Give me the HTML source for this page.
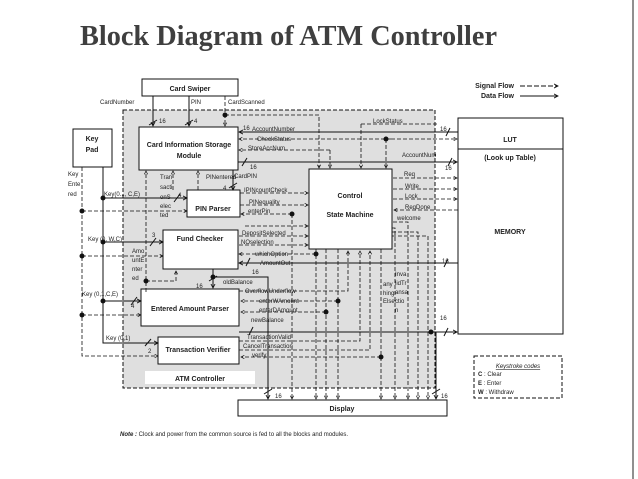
<!DOCTYPE html>
<html><head><meta charset="utf-8"><style>
html,body{margin:0;padding:0;background:#fff;}
svg{display:block;}
text{font-family:"Liberation Sans",sans-serif;fill:#222;}
.t{font-size:6px;}
.b{font-size:7px;font-weight:bold;}
</style></head><body>
<svg width="638" height="479" viewBox="0 0 638 479" xmlns="http://www.w3.org/2000/svg">
<defs>
<marker id="a" viewBox="0 0 6 6" refX="5" refY="3" markerWidth="5" markerHeight="5" orient="auto"><path d="M0,0.5 L5,3 L0,5.5" fill="none" stroke="#111" stroke-width="1"/></marker>
</defs>
<line x1="633" y1="0" x2="633" y2="479" stroke="#222" stroke-width="1"/>
<text x="80" y="45" textLength="417" lengthAdjust="spacingAndGlyphs" style="font-family:'Liberation Serif',serif;font-size:28px;font-weight:bold;fill:#3f3f3f">Block Diagram of ATM Controller</text>

<rect x="123" y="110" width="312" height="278" fill="#dfdfdf" stroke="#111" stroke-dasharray="4,2"/>
<rect x="145" y="371" width="110" height="13" fill="#fff"/>
<text x="200" y="381" class="b" text-anchor="middle">ATM Controller</text>

<g fill="#fff" stroke="#111" stroke-width="1">
<rect x="142" y="79" width="96" height="17"/>
<rect x="73" y="129" width="39" height="38"/>
<rect x="139" y="127" width="99" height="43"/>
<rect x="187" y="190" width="53" height="27"/>
<rect x="163" y="230" width="75" height="39"/>
<rect x="141" y="289" width="98" height="37"/>
<rect x="158" y="337" width="81" height="27"/>
<rect x="309" y="169" width="83" height="80"/>
<rect x="458" y="118" width="105" height="216"/>
<rect x="238" y="400" width="209" height="16"/>
</g>
<line x1="458" y1="149" x2="563" y2="149" stroke="#111"/>
<rect x="474" y="356" width="88" height="42" fill="none" stroke="#111" stroke-dasharray="4,2"/>

<text x="190" y="91" class="b" text-anchor="middle">Card Swiper</text>
<text x="92" y="141" class="b" text-anchor="middle">Key</text>
<text x="92" y="152" class="b" text-anchor="middle">Pad</text>
<text x="189" y="147" class="b" text-anchor="middle">Card Information Storage</text>
<text x="189" y="158" class="b" text-anchor="middle">Module</text>
<text x="213" y="211" class="b" text-anchor="middle">PIN Parser</text>
<text x="200" y="241" class="b" text-anchor="middle">Fund Checker</text>
<text x="190" y="311" class="b" text-anchor="middle">Entered Amount Parser</text>
<text x="198" y="352" class="b" text-anchor="middle">Transaction Verifier</text>
<text x="350" y="198" class="b" text-anchor="middle">Control</text>
<text x="350" y="217" class="b" text-anchor="middle">State Machine</text>
<text x="510" y="142" class="b" text-anchor="middle">LUT</text>
<text x="510" y="160" class="b" text-anchor="middle">(Look up Table)</text>
<text x="510" y="234" class="b" text-anchor="middle">MEMORY</text>
<text x="342" y="411" class="b" text-anchor="middle">Display</text>
<text x="514" y="88" class="b" text-anchor="end">Signal Flow</text>
<text x="514" y="98" class="b" text-anchor="end">Data Flow</text>
<line x1="520" y1="86" x2="558" y2="86" stroke="#111" stroke-dasharray="5,2" marker-end="url(#a)"/>
<line x1="520" y1="96" x2="558" y2="96" stroke="#111" marker-end="url(#a)"/>
<text x="518" y="368" class="t" text-anchor="middle" style="font-style:italic;text-decoration:underline">Keystroke codes</text>
<text x="478" y="376" class="t"><tspan font-weight="bold">C</tspan> : Clear</text>
<text x="478" y="385" class="t"><tspan font-weight="bold">E</tspan> : Enter</text>
<text x="478" y="394" class="t"><tspan font-weight="bold">W</tspan> : Withdraw</text>
<text x="120" y="436" class="t"><tspan font-weight="bold" font-style="italic">Note :</tspan> Clock and power from the common source is fed to all the blocks and modules.</text>

<g stroke="#111" fill="none" stroke-width="1">
<path d="M153 96 V126" marker-end="url(#a)"/>
<path d="M189 96 V126" marker-end="url(#a)"/>
<path d="M103 167 V343 H158" marker-end="url(#a)"/>
<path d="M103 198 H187" marker-end="url(#a)"/>
<path d="M103 242 H163" marker-end="url(#a)"/>
<path d="M103 301 H141" marker-end="url(#a)"/>
<path d="M458 132 H239" marker-end="url(#a)"/>
<path d="M238 162 H457" marker-end="url(#a)"/>
<path d="M233 170 V190" marker-end="url(#a)"/>
<path d="M458 263 H239" marker-end="url(#a)"/>
<path d="M239 332 H457" marker-end="url(#a)"/>
<path d="M436 332 V399" marker-end="url(#a)"/>
<path d="M213 277 H268 V399" marker-end="url(#a)"/>
<path d="M213 269 V288" marker-end="url(#a)"/>
</g>
<g stroke="#111" fill="none" stroke-width="0.8" stroke-dasharray="4,2">
<path d="M82 167 V356 H158" marker-end="url(#a)"/>
<path d="M82 211 H187" marker-end="url(#a)"/>
<path d="M82 256 H163" marker-end="url(#a)"/>
<path d="M82 315 H141" marker-end="url(#a)"/>
<path d="M225 96 V126" marker-end="url(#a)"/>
<path d="M225 115 H319 V168" marker-end="url(#a)"/>
<path d="M146 292 V171" marker-end="url(#a)"/>
<path d="M173 190 V171" marker-end="url(#a)"/>
<path d="M198 190 V171" marker-end="url(#a)"/>
<path d="M146 281 H176 V271" marker-end="url(#a)"/>
<path d="M391 139 H239" marker-end="url(#a)"/>
<path d="M391 139 H457" marker-end="url(#a)"/>
<path d="M386 139 V168" marker-end="url(#a)"/>
<path d="M330 150 H239" marker-end="url(#a)"/>
<path d="M330 150 V168" marker-end="url(#a)"/>
<path d="M361 124 H438" />
<path d="M361 124 V168" marker-end="url(#a)"/>
<path d="M240 193 H308" marker-end="url(#a)"/>
<path d="M240 205 H308" marker-end="url(#a)"/>
<path d="M292 214 H241" marker-end="url(#a)"/>
<path d="M292 214 V399" marker-end="url(#a)"/>
<path d="M245 226 H308" marker-end="url(#a)"/>
<path d="M239 236 H308" marker-end="url(#a)"/>
<path d="M239 245 H308" marker-end="url(#a)"/>
<path d="M316 254 H239" marker-end="url(#a)"/>
<path d="M316 249 V399" marker-end="url(#a)"/>
<path d="M326 249 V399" marker-end="url(#a)"/>
<path d="M338 249 V399" marker-end="url(#a)"/>
<path d="M239 291 H348 V251" marker-end="url(#a)"/>
<path d="M239 341 H360 V251" marker-end="url(#a)"/>
<path d="M239 350 H370 V251" marker-end="url(#a)"/>
<path d="M338 301 H241" marker-end="url(#a)"/>
<path d="M326 312 H241" marker-end="url(#a)"/>
<path d="M381 357 H241" marker-end="url(#a)"/>
<path d="M381 249 V399" marker-end="url(#a)"/>
<path d="M393 178 H457" marker-end="url(#a)"/>
<path d="M393 189 H457" marker-end="url(#a)"/>
<path d="M393 199 H457" marker-end="url(#a)"/>
<path d="M458 210 H394" marker-end="url(#a)"/>
<path d="M393 222 H408 V399" marker-end="url(#a)"/>
<path d="M392 228 H395 V399" marker-end="url(#a)"/>
<path d="M392 232 H418 V399" marker-end="url(#a)"/>
<path d="M392 236 H428 V399" marker-end="url(#a)"/>
</g>
<g fill="#111">
<circle cx="103" cy="198" r="2.5"/><circle cx="82" cy="211" r="2.5"/>
<circle cx="103" cy="242" r="2.5"/><circle cx="82" cy="256" r="2.5"/>
<circle cx="103" cy="301" r="2.5"/><circle cx="82" cy="315" r="2.5"/>
<circle cx="225" cy="115" r="2.5"/><circle cx="386" cy="139" r="2.5"/>
<circle cx="292" cy="214" r="2.5"/><circle cx="316" cy="254" r="2.5"/>
<circle cx="146" cy="281" r="2.5"/><circle cx="213" cy="277" r="2.5"/>
<circle cx="338" cy="301" r="2.5"/><circle cx="326" cy="312" r="2.5"/>
<circle cx="381" cy="357" r="2.5"/><circle cx="431" cy="332" r="2.5"/>
</g>
<g class="t">
<text x="100" y="104" class="t">CardNumber</text>
<text x="191" y="104" class="t">PIN</text>
<text x="228" y="104" class="t">CardScanned</text>
<text x="159" y="123" class="t">16</text><text x="194" y="123" class="t">4</text>
<text x="243" y="130" class="t">16</text>
<text x="252" y="131" class="t">AccountNumber</text>
<text x="257" y="141" class="t">CheckStatus</text>
<text x="248" y="150" class="t">StoreAccNum</text>
<text x="250" y="169" class="t">16</text>
<text x="373" y="123" class="t">LockStatus</text>
<text x="440" y="131" class="t">16</text>
<text x="402" y="157" class="t">AccountNum</text>
<text x="445" y="170" class="t">16</text>
<text x="234" y="178" class="t">CardPIN</text>
<text x="206" y="179" class="t">PINentered</text>
<text x="223" y="190" class="t">4</text>
<text x="160" y="179" class="t">Tran</text><text x="160" y="189" class="t">sacti</text><text x="160" y="199" class="t">onS</text><text x="160" y="208" class="t">elec</text><text x="160" y="217" class="t">ted</text>
<text x="68" y="176" class="t">Key</text><text x="68" y="186" class="t">Ente</text><text x="68" y="196" class="t">red</text>
<text x="104" y="196" class="t">Key(0..., C,E)</text>
<text x="178" y="197" class="t">4</text>
<text x="244" y="192" class="t">IPINcountCheck</text>
<text x="249" y="204" class="t">PINequality</text>
<text x="248" y="213" class="t">enterPin</text>
<text x="242" y="235" class="t">DepositSelected</text>
<text x="241" y="244" class="t">NOselection</text>
<text x="255" y="256" class="t">whichOption</text>
<text x="260" y="265" class="t">AmountOut</text>
<text x="252" y="274" class="t">16</text>
<text x="88" y="241" class="t">Key (0, W,C)</text>
<text x="152" y="237" class="t">3</text>
<text x="132" y="253" class="t">Amo</text><text x="132" y="262" class="t">untE</text><text x="132" y="271" class="t">nter</text><text x="132" y="280" class="t">ed</text>
<text x="223" y="284" class="t">oldBalance</text>
<text x="196" y="288" class="t">16</text>
<text x="245" y="293" class="t">OverflowUnderflow</text>
<text x="259" y="303" class="t">enterWAmount</text>
<text x="259" y="312" class="t">enterDAmount</text>
<text x="251" y="322" class="t">newBalance</text>
<text x="82" y="296" class="t">Key (0,1,C,E)</text>
<text x="131" y="308" class="t">4</text>
<text x="106" y="340" class="t">Key (0,1)</text>
<text x="148" y="353" class="t">2</text>
<text x="247" y="339" class="t">TransactionValid</text>
<text x="243" y="348" class="t">CancelTransaction</text>
<text x="252" y="357" class="t">verify</text>
<text x="404" y="176" class="t">Req</text>
<text x="405" y="188" class="t">Write</text>
<text x="405" y="198" class="t">Lock</text>
<text x="405" y="209" class="t">ReqDone</text>
<text x="397" y="220" class="t">welcome</text>
<text x="383" y="286" class="t">any</text><text x="383" y="295" class="t">hing</text><text x="383" y="303" class="t">Else</text>
<text x="395" y="276" class="t">Inva</text><text x="395" y="285" class="t">lidTr</text><text x="395" y="294" class="t">ansa</text><text x="395" y="303" class="t">ctio</text><text x="395" y="312" class="t">n</text>
<text x="442" y="263" class="t">16</text>
<text x="440" y="320" class="t">16</text>
<text x="275" y="398" class="t">16</text>
<text x="441" y="398" class="t">16</text>
</g>
<g stroke="#111" stroke-width="1">
<line x1="149" y1="125" x2="157" y2="120"/><line x1="185" y1="125" x2="193" y2="120"/>
<line x1="242" y1="166" x2="247" y2="158"/><line x1="448" y1="166" x2="452" y2="158"/>
<line x1="446" y1="136" x2="450" y2="128"/><line x1="229" y1="188" x2="237" y2="183"/>
<line x1="174" y1="202" x2="180" y2="194"/><line x1="150" y1="246" x2="156" y2="238"/>
<line x1="246" y1="266" x2="250" y2="258"/><line x1="209" y1="281" x2="217" y2="276"/>
<line x1="131" y1="305" x2="137" y2="297"/><line x1="145" y1="346" x2="151" y2="339"/>
<line x1="444" y1="267" x2="448" y2="259"/><line x1="444" y1="336" x2="448" y2="328"/>
<line x1="249" y1="335" x2="253" y2="327"/><line x1="264" y1="394" x2="272" y2="389"/>
<line x1="432" y1="394" x2="440" y2="389"/>
</g>
</svg>
</body></html>
